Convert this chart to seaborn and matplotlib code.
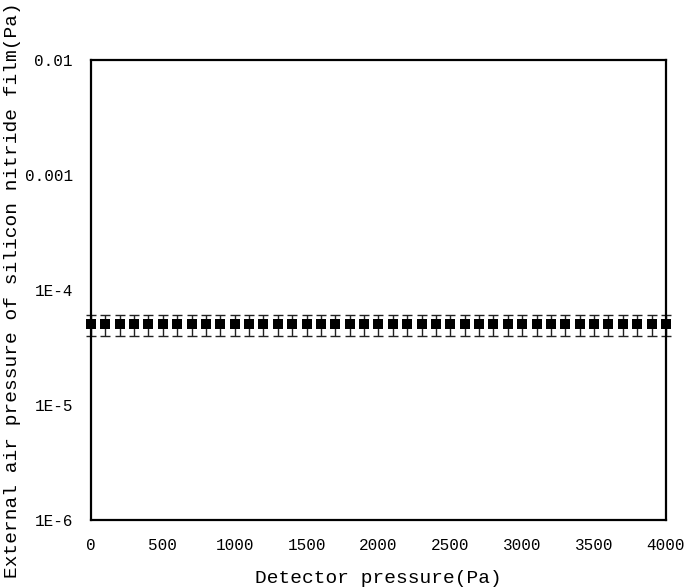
import numpy as np
import pandas as pd
import matplotlib
matplotlib.use("Agg")
import matplotlib.pyplot as plt
import seaborn as sns
from matplotlib.ticker import FixedLocator, FixedFormatter, MultipleLocator

# data
detector_pressure = list(range(0, 4001, 100))
external_pressure = [5.0e-5] * len(detector_pressure)
error_low = [1.0e-5] * len(detector_pressure)
error_high = [1.0e-5] * len(detector_pressure)
y_tick_values = [1e-6, 1e-5, 1e-4, 1e-3, 1e-2]
y_tick_labels = ["1E-6", "1E-5", "1E-4", "0.001", "0.01"]
x_tick_values = [0, 500, 1000, 1500, 2000, 2500, 3000, 3500, 4000]

df = pd.DataFrame({"x": detector_pressure, "y": external_pressure})

sns.set_theme(style="white")
plt.rcParams["font.family"] = ["Liberation Mono", "DejaVu Sans"]

fig = plt.figure(figsize=(6.85, 5.88), dpi=100)
ax = fig.add_axes([0.1328, 0.116, 0.8394, 0.782])

ax.errorbar(df["x"], df["y"], yerr=[error_low, error_high], fmt="none",
            ecolor="#222222", elinewidth=1.0, capsize=3.4, capthick=1.0,
            clip_on=False, zorder=2)
sns.scatterplot(data=df, x="x", y="y", marker="s", s=52, color="black",
                edgecolor="black", linewidth=0, ax=ax, clip_on=False, zorder=3)

ax.set_yscale("log")
ax.set_ylim(1e-6, 1e-2)
ax.set_xlim(0, 4000)
ax.yaxis.set_major_locator(FixedLocator(y_tick_values))
ax.yaxis.set_major_formatter(FixedFormatter(y_tick_labels))
ax.yaxis.set_minor_locator(FixedLocator([]))
ax.xaxis.set_major_locator(FixedLocator(x_tick_values))
ax.xaxis.set_minor_locator(MultipleLocator(250))

ax.tick_params(axis="x", which="major", direction="in", length=5, width=1.5,
               labelsize=11.5, pad=13, colors="black")
ax.tick_params(axis="x", which="minor", direction="in", length=3, width=1.2)
ax.tick_params(axis="y", which="major", direction="in", length=0,
               labelsize=11.5, pad=13, colors="black")

for sp in ax.spines.values():
    sp.set_visible(True)
    sp.set_color("black")
    sp.set_linewidth(1.6)

ax.set_xlabel("Detector pressure(Pa)", fontsize=14, color="black", labelpad=12)
ax.set_ylabel("External air pressure of silicon nitride film(Pa)", fontsize=14,
              color="black")
ax.yaxis.set_label_coords(-0.122, 0.5)

fig.savefig("out.png", dpi=100)
